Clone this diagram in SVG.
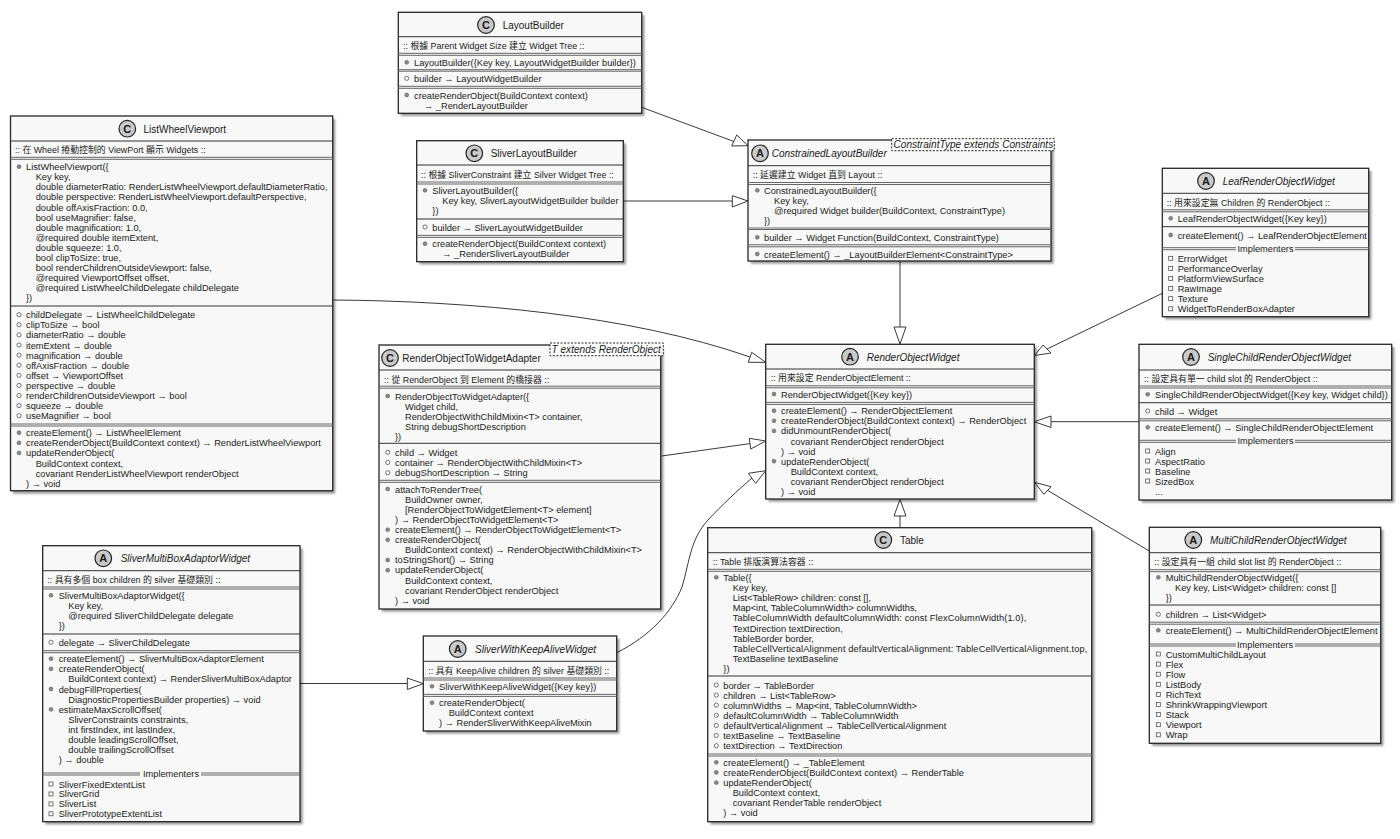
<svg xmlns="http://www.w3.org/2000/svg" width="1400" height="839" viewBox="0 0 1400 839">
<style>
text{font-family:"Liberation Sans","Noto Sans CJK TC",sans-serif;font-size:9.25px;fill:#1a1a1a}
.box{fill:#f8f8f8;stroke:#262626;stroke-width:1.3}
.shadow{fill:#000;opacity:.4;filter:url(#blur)}
.sep{stroke:#333;stroke-width:1;fill:none}
.dbl{stroke:#666;stroke-width:1;fill:none}
text.st{font-size:8.9px}
text.ttl{font-size:10px}
.it{font-style:italic}
.ic{fill:#c9c9c9;stroke:#222;stroke-width:1.2}
text.L{font-size:11px;font-weight:bold;text-anchor:middle}
text.gt{font-size:10.1px;font-style:italic}
.gen{fill:#fff;stroke:#222;stroke-width:1;stroke-dasharray:2 1.5}
.conn path{fill:none;stroke:#3a3a3a;stroke-width:1}
.conn polygon{fill:#fff;stroke:#3a3a3a;stroke-width:1}
.m{fill:#8a8a8a;stroke:#666;stroke-width:.7}
.f{fill:none;stroke:#444;stroke-width:.7}
.s{fill:none;stroke:#444;stroke-width:.7}
</style>
<defs>
<filter id="blur" x="-5%" y="-5%" width="110%" height="110%"><feGaussianBlur stdDeviation="1.2"/></filter>
<circle id="dm" class="m" r="1.9"/>
<circle id="df" class="f" r="2.1"/>
<rect id="ds" class="s" x="-2" y="-2" width="4" height="4"/>
</defs>
<rect width="1400" height="839" fill="#fff"/>

<g id="connectors" class="conn">
<path d="M641.7 107.3L738 143"/><polygon points="748,145.7 736.7,135 731.7,146"/>
<path d="M623.3 201H732.3"/><polygon points="748,201 732.3,195.7 732.3,207"/>
<path d="M900 261V327"/><polygon points="900,344 894,327 906,327"/>
<path d="M900 527.7V516"/><polygon points="900,499.5 894,516 906,516"/>
<path d="M1162.3 293.3L1047 349"/><polygon points="1034.5,355.5 1043,345 1051,353"/>
<path d="M1139 421.7H1051"/><polygon points="1034.3,421.7 1051,416 1051,427.5"/>
<path d="M1149.3 551L1047 490"/><polygon points="1034.5,482.3 1051,486.7 1044,494.3"/>
<path d="M332.7 300C470 301 630 315 750 357"/><polygon points="765.7,362.3 751.7,352.3 748.3,362.3"/>
<path d="M661.7 456L750 443.6"/><polygon points="765.7,441 749.3,438.3 750.7,449"/>
<path d="M616.7 652.7C650 636 672 612 682 587C690 560 690 540 708 520C722 505 738 490 752 478"/><polygon points="765.7,470.7 748.3,473.3 755.7,483.3"/>
<path d="M300 683.5H407.3"/><polygon points="423.3,683.7 407.3,678 407.3,689.5"/>
</g>

<g id="ListWheelViewport">
<rect class="shadow" x="13" y="119" width="322.2" height="374.7"/>
<rect class="box" x="10.5" y="116" width="322.2" height="374.7"/>
<circle class="ic" cx="127.3" cy="128.7" r="8.3"/><text class="L" x="127.3" y="132.6">C</text>
<text class="ttl" x="143.5" y="132.7">ListWheelViewport</text>
<path class="sep" d="M10.5 141H332.7M10.5 306H332.7"/>
<path class="dbl" d="M10.5 157.3H332.7M10.5 159.3H332.7M10.5 424H332.7M10.5 426H332.7"/>
<text class="st" x="15" y="153">:: 在 Wheel 捲動控制的 ViewPort 顯示 Widgets ::</text>
<use href="#dm" x="19" y="166.7"/>
<text y="170.2"><tspan x="26">ListWheelViewport({</tspan><tspan x="35.7" dy="10.08">Key key,</tspan><tspan x="35.7" dy="10.08">double diameterRatio: RenderListWheelViewport.defaultDiameterRatio,</tspan><tspan x="35.7" dy="10.08">double perspective: RenderListWheelViewport.defaultPerspective,</tspan><tspan x="35.7" dy="10.08">double offAxisFraction: 0.0,</tspan><tspan x="35.7" dy="10.08">bool useMagnifier: false,</tspan><tspan x="35.7" dy="10.08">double magnification: 1.0,</tspan><tspan x="35.7" dy="10.08">@required double itemExtent,</tspan><tspan x="35.7" dy="10.08">double squeeze: 1.0,</tspan><tspan x="35.7" dy="10.08">bool clipToSize: true,</tspan><tspan x="35.7" dy="10.08">bool renderChildrenOutsideViewport: false,</tspan><tspan x="35.7" dy="10.08">@required ViewportOffset offset,</tspan><tspan x="35.7" dy="10.08">@required ListWheelChildDelegate childDelegate</tspan><tspan x="26" dy="10.08">})</tspan></text>
<use href="#df" x="19" y="314.7"/><use href="#df" x="19" y="324.8"/><use href="#df" x="19" y="334.9"/><use href="#df" x="19" y="345"/><use href="#df" x="19" y="355.1"/><use href="#df" x="19" y="365.2"/><use href="#df" x="19" y="375.3"/><use href="#df" x="19" y="385.4"/><use href="#df" x="19" y="395.5"/><use href="#df" x="19" y="405.6"/><use href="#df" x="19" y="415.7"/>
<text y="318.2"><tspan x="26">childDelegate → ListWheelChildDelegate</tspan><tspan x="26" dy="10.1">clipToSize → bool</tspan><tspan x="26" dy="10.1">diameterRatio → double</tspan><tspan x="26" dy="10.1">itemExtent → double</tspan><tspan x="26" dy="10.1">magnification → double</tspan><tspan x="26" dy="10.1">offAxisFraction → double</tspan><tspan x="26" dy="10.1">offset → ViewportOffset</tspan><tspan x="26" dy="10.1">perspective → double</tspan><tspan x="26" dy="10.1">renderChildrenOutsideViewport → bool</tspan><tspan x="26" dy="10.1">squeeze → double</tspan><tspan x="26" dy="10.1">useMagnifier → bool</tspan></text>
<use href="#dm" x="19" y="432.7"/><use href="#dm" x="19" y="442.8"/><use href="#dm" x="19" y="452.9"/>
<text y="436.2"><tspan x="26">createElement() → ListWheelElement</tspan><tspan x="26" dy="10.1">createRenderObject(BuildContext context) → RenderListWheelViewport</tspan><tspan x="26" dy="10.1">updateRenderObject(</tspan><tspan x="35.7" dy="10.1">BuildContext context,</tspan><tspan x="35.7" dy="10.1">covariant RenderListWheelViewport renderObject</tspan><tspan x="26" dy="10.1">) → void</tspan></text>
</g>

<g id="LayoutBuilder">
<rect class="shadow" x="401" y="15" width="243.4" height="101"/>
<rect class="box" x="398.3" y="12.3" width="243.4" height="101"/>
<circle class="ic" cx="486" cy="25" r="8.3"/><text class="L" x="486" y="28.9">C</text>
<text class="ttl" x="502.7" y="29">LayoutBuilder</text>
<path class="sep" d="M398.3 36.7H641.7"/>
<path class="dbl" d="M398.3 53.3H641.7M398.3 55.3H641.7M398.3 69.7H641.7M398.3 71.2H641.7M398.3 86.3H641.7M398.3 88.3H641.7"/>
<text class="st" x="403" y="49">:: 根據 Parent Widget Size 建立 Widget Tree ::</text>
<use href="#dm" x="406.7" y="62.3"/><text x="414" y="65.8">LayoutBuilder({Key key, LayoutWidgetBuilder builder})</text>
<use href="#df" x="406.7" y="78.3"/><text x="414" y="81.8">builder → LayoutWidgetBuilder</text>
<use href="#dm" x="406.7" y="95"/><text y="98.5"><tspan x="414">createRenderObject(BuildContext context)</tspan><tspan x="424" dy="10.2">→ _RenderLayoutBuilder</tspan></text>
</g>

<g id="SliverLayoutBuilder">
<rect class="shadow" x="419.4" y="143.4" width="206.6" height="121"/>
<rect class="box" x="416.7" y="140.7" width="206.6" height="121"/>
<circle class="ic" cx="474.3" cy="153.3" r="8.3"/><text class="L" x="474.3" y="157.2">C</text>
<text class="ttl" x="490.7" y="157.3">SliverLayoutBuilder</text>
<path class="sep" d="M416.7 165H623.3M416.7 219H623.3"/>
<path class="dbl" d="M416.7 182H623.3M416.7 184H623.3M416.7 235.4H623.3M416.7 237.4H623.3"/>
<text class="st" x="421" y="177.8">:: 根據 SliverConstraint 建立 Silver Widget Tree ::</text>
<use href="#dm" x="425" y="190.3"/><text y="193.8"><tspan x="432.3">SliverLayoutBuilder({</tspan><tspan x="442.3" dy="10.2">Key key, SliverLayoutWidgetBuilder builder</tspan><tspan x="432.3" dy="10.2">})</tspan></text>
<use href="#df" x="425" y="227"/><text x="432.3" y="230.5">builder → SliverLayoutWidgetBuilder</text>
<use href="#dm" x="425" y="243.7"/><text y="247.2"><tspan x="432.3">createRenderObject(BuildContext context)</tspan><tspan x="442.3" dy="10.2">→ _RenderSliverLayoutBuilder</tspan></text>
</g>

<g id="ConstrainedLayoutBuilder">
<rect class="shadow" x="750.7" y="142.7" width="303" height="121"/>
<rect class="box" x="748" y="140" width="303" height="121"/>
<rect class="gen" x="891.7" y="138.7" width="162.6" height="12"/>
<text class="gt" x="893.5" y="148">ConstraintType extends Constraints</text>
<circle class="ic" cx="760" cy="153.3" r="8.3"/><text class="L" x="760" y="157.2">A</text>
<text class="ttl it" x="771.7" y="157.3">ConstrainedLayoutBuilder</text>
<path class="sep" d="M748 165.7H1051"/>
<path class="dbl" d="M748 182.5H1051M748 184.5H1051M748 228H1051M748 229.5H1051M748 244.8H1051M748 246.8H1051"/>
<text class="st" x="752.7" y="177.8">:: 延遲建立 Widget 直到 Layout ::</text>
<use href="#dm" x="757.3" y="190.3"/><text y="193.8"><tspan x="764">ConstrainedLayoutBuilder({</tspan><tspan x="774" dy="10.2">Key key,</tspan><tspan x="774" dy="10.2">@required Widget builder(BuildContext, ConstraintType)</tspan><tspan x="764" dy="10.2">})</tspan></text>
<use href="#dm" x="757.3" y="237.3"/><text x="764" y="240.8">builder → Widget Function(BuildContext, ConstraintType)</text>
<use href="#dm" x="757.3" y="254"/><text x="764" y="257.5">createElement() → _LayoutBuilderElement&lt;ConstraintType&gt;</text>
</g>

<g id="LeafRenderObjectWidget">
<rect class="shadow" x="1165" y="171" width="206.4" height="148.4"/>
<rect class="box" x="1162.3" y="168.3" width="206.4" height="148.4"/>
<circle class="ic" cx="1206" cy="181" r="8.3"/><text class="L" x="1206" y="184.9">A</text>
<text class="ttl it" x="1222.7" y="185.2">LeafRenderObjectWidget</text>
<path class="sep" d="M1162.3 193.3H1368.7M1162.3 226.7H1368.7"/>
<path class="dbl" d="M1162.3 209.8H1368.7M1162.3 211.8H1368.7M1162.3 247.7H1236M1162.3 249.7H1236M1295 247.7H1368.7M1295 249.7H1368.7"/>
<text class="st" x="1166.7" y="205.8">:: 用來設定無 Children 的 RenderObject ::</text>
<use href="#dm" x="1170.7" y="218.3"/><text x="1177.7" y="221.8">LeafRenderObjectWidget({Key key})</text>
<use href="#dm" x="1170.7" y="235"/><text x="1177.7" y="238.5">createElement() → LeafRenderObjectElement</text>
<text x="1265.5" y="251.5" text-anchor="middle">Implementers</text>
<use href="#ds" x="1170.7" y="258.3"/><use href="#ds" x="1170.7" y="268.4"/><use href="#ds" x="1170.7" y="278.5"/><use href="#ds" x="1170.7" y="288.6"/><use href="#ds" x="1170.7" y="298.7"/><use href="#ds" x="1170.7" y="308.8"/>
<text y="261.8"><tspan x="1177.7">ErrorWidget</tspan><tspan x="1177.7" dy="10.1">PerformanceOverlay</tspan><tspan x="1177.7" dy="10.1">PlatformViewSurface</tspan><tspan x="1177.7" dy="10.1">RawImage</tspan><tspan x="1177.7" dy="10.1">Texture</tspan><tspan x="1177.7" dy="10.1">WidgetToRenderBoxAdapter</tspan></text>
</g>

<g id="SingleChildRenderObjectWidget">
<rect class="shadow" x="1141.7" y="347" width="252.7" height="155.7"/>
<rect class="box" x="1139" y="344.3" width="252.7" height="155.7"/>
<circle class="ic" cx="1191" cy="357" r="8.3"/><text class="L" x="1191" y="360.9">A</text>
<text class="ttl it" x="1207.7" y="361.3">SingleChildRenderObjectWidget</text>
<path class="sep" d="M1139 370H1391.7M1139 402.7H1391.7"/>
<path class="dbl" d="M1139 386H1391.7M1139 388H1391.7M1139 418.8H1391.7M1139 420.8H1391.7M1139 440.3H1236M1139 442.3H1236M1295 440.3H1391.7M1295 442.3H1391.7"/>
<text class="st" x="1144" y="381.8">:: 設定具有單一 child slot 的 RenderObject ::</text>
<use href="#dm" x="1147.7" y="394.3"/><text x="1155" y="397.8">SingleChildRenderObjectWidget({Key key, Widget child})</text>
<use href="#df" x="1147.7" y="411"/><text x="1155" y="414.5">child → Widget</text>
<use href="#dm" x="1147.7" y="427.3"/><text x="1155" y="430.8">createElement() → SingleChildRenderObjectElement</text>
<text x="1265.5" y="444" text-anchor="middle">Implementers</text>
<use href="#ds" x="1147.7" y="451"/><use href="#ds" x="1147.7" y="461"/><use href="#ds" x="1147.7" y="471"/><use href="#ds" x="1147.7" y="481"/>
<text y="454.5"><tspan x="1155">Align</tspan><tspan x="1155" dy="10">AspectRatio</tspan><tspan x="1155" dy="10">Baseline</tspan><tspan x="1155" dy="10">SizedBox</tspan><tspan x="1155" dy="10">...</tspan></text>
</g>

<g id="RenderObjectToWidgetAdapter">
<rect class="shadow" x="381.7" y="347.7" width="281.7" height="264"/>
<rect class="box" x="379" y="345" width="281.7" height="264"/>
<rect class="gen" x="550" y="343" width="113.3" height="12.7"/>
<text class="gt" x="551.5" y="352.5">T extends RenderObject</text>
<circle class="ic" cx="390" cy="358" r="8.3"/><text class="L" x="390" y="361.9">C</text>
<text class="ttl" x="402.3" y="362.2">RenderObjectToWidgetAdapter</text>
<path class="sep" d="M379 370H660.7M379 443.3H660.7"/>
<path class="dbl" d="M379 386.2H660.7M379 388.2H660.7M379 480.3H660.7M379 482.3H660.7"/>
<text class="st" x="384" y="382.8">:: 從 RenderObject 到 Element 的橋接器 ::</text>
<use href="#dm" x="387.7" y="396"/>
<text y="399.5"><tspan x="395">RenderObjectToWidgetAdapter({</tspan><tspan x="405" dy="10.1">Widget child,</tspan><tspan x="405" dy="10.1">RenderObjectWithChildMixin&lt;T&gt; container,</tspan><tspan x="405" dy="10.1">String debugShortDescription</tspan><tspan x="395" dy="10.1">})</tspan></text>
<use href="#df" x="387.7" y="452.3"/><use href="#df" x="387.7" y="462.5"/><use href="#df" x="387.7" y="472.7"/>
<text y="455.8"><tspan x="395">child → Widget</tspan><tspan x="395" dy="10.2">container → RenderObjectWithChildMixin&lt;T&gt;</tspan><tspan x="395" dy="10.2">debugShortDescription → String</tspan></text>
<use href="#dm" x="387.7" y="489"/><use href="#dm" x="387.7" y="529.7"/><use href="#dm" x="387.7" y="539.8"/><use href="#dm" x="387.7" y="560"/><use href="#dm" x="387.7" y="570.2"/>
<text y="492.5"><tspan x="395">attachToRenderTree(</tspan><tspan x="405" dy="10.12">BuildOwner owner,</tspan><tspan x="405" dy="10.12">[RenderObjectToWidgetElement&lt;T&gt; element]</tspan><tspan x="395" dy="10.12">) → RenderObjectToWidgetElement&lt;T&gt;</tspan><tspan x="395" dy="10.12">createElement() → RenderObjectToWidgetElement&lt;T&gt;</tspan><tspan x="395" dy="10.12">createRenderObject(</tspan><tspan x="405" dy="10.12">BuildContext context) → RenderObjectWithChildMixin&lt;T&gt;</tspan><tspan x="395" dy="10.12">toStringShort() → String</tspan><tspan x="395" dy="10.12">updateRenderObject(</tspan><tspan x="405" dy="10.12">BuildContext context,</tspan><tspan x="405" dy="10.12">covariant RenderObject renderObject</tspan><tspan x="395" dy="10.12">) → void</tspan></text>
</g>

<g id="RenderObjectWidget">
<rect class="shadow" x="768.4" y="347" width="268.6" height="154.7"/>
<rect class="box" x="765.7" y="344.3" width="268.6" height="154.7"/>
<circle class="ic" cx="850" cy="356.7" r="8.3"/><text class="L" x="850" y="360.6">A</text>
<text class="ttl it" x="866.7" y="360.5">RenderObjectWidget</text>
<path class="sep" d="M765.7 369H1034.3"/>
<path class="dbl" d="M765.7 385.8H1034.3M765.7 387.8H1034.3M765.7 402.4H1034.3M765.7 404.4H1034.3"/>
<text class="st" x="770.7" y="381.2">:: 用來設定 RenderObjectElement ::</text>
<use href="#dm" x="774" y="394"/><text x="781" y="397.5">RenderObjectWidget({Key key})</text>
<use href="#dm" x="774" y="410.7"/><use href="#dm" x="774" y="420.8"/><use href="#dm" x="774" y="430.9"/><use href="#dm" x="774" y="461.2"/>
<text y="414.2"><tspan x="781">createElement() → RenderObjectElement</tspan><tspan x="781" dy="10.12">createRenderObject(BuildContext context) → RenderObject</tspan><tspan x="781" dy="10.12">didUnmountRenderObject(</tspan><tspan x="790.7" dy="10.12">covariant RenderObject renderObject</tspan><tspan x="781" dy="10.12">) → void</tspan><tspan x="781" dy="10.12">updateRenderObject(</tspan><tspan x="790.7" dy="10.12">BuildContext context,</tspan><tspan x="790.7" dy="10.12">covariant RenderObject renderObject</tspan><tspan x="781" dy="10.12">) → void</tspan></text>
</g>

<g id="Table">
<rect class="shadow" x="710.4" y="530.4" width="384" height="294"/>
<rect class="box" x="707.7" y="527.7" width="384" height="294"/>
<circle class="ic" cx="883.3" cy="540" r="8.3"/><text class="L" x="883.3" y="543.9">C</text>
<text class="ttl" x="900" y="544">Table</text>
<path class="sep" d="M707.7 552.7H1091.7M707.7 676H1091.7"/>
<path class="dbl" d="M707.7 569.3H1091.7M707.7 571.3H1091.7M707.7 754H1091.7M707.7 756H1091.7"/>
<text class="st" x="712.7" y="564.8">:: Table 排版演算法容器 ::</text>
<use href="#dm" x="716.3" y="577.3"/>
<text y="580.8"><tspan x="723.3">Table({</tspan><tspan x="732.7" dy="10.15">Key key,</tspan><tspan x="732.7" dy="10.15">List&lt;TableRow&gt; children: const [],</tspan><tspan x="732.7" dy="10.15">Map&lt;int, TableColumnWidth&gt; columnWidths,</tspan><tspan x="732.7" dy="10.15" style="letter-spacing:.09px">TableColumnWidth defaultColumnWidth: const FlexColumnWidth(1.0),</tspan><tspan x="732.7" dy="10.15">TextDirection textDirection,</tspan><tspan x="732.7" dy="10.15">TableBorder border,</tspan><tspan x="732.7" dy="10.15" style="letter-spacing:.13px">TableCellVerticalAlignment defaultVerticalAlignment: TableCellVerticalAlignment.top,</tspan><tspan x="732.7" dy="10.15">TextBaseline textBaseline</tspan><tspan x="723.3" dy="10.15">})</tspan></text>
<use href="#df" x="716.3" y="685"/><use href="#df" x="716.3" y="695.1"/><use href="#df" x="716.3" y="705.2"/><use href="#df" x="716.3" y="715.3"/><use href="#df" x="716.3" y="725.4"/><use href="#df" x="716.3" y="735.5"/><use href="#df" x="716.3" y="745.7"/>
<text y="688.5"><tspan x="723.3">border → TableBorder</tspan><tspan x="723.3" dy="10.12">children → List&lt;TableRow&gt;</tspan><tspan x="723.3" dy="10.12">columnWidths → Map&lt;int, TableColumnWidth&gt;</tspan><tspan x="723.3" dy="10.12">defaultColumnWidth → TableColumnWidth</tspan><tspan x="723.3" dy="10.12">defaultVerticalAlignment → TableCellVerticalAlignment</tspan><tspan x="723.3" dy="10.12">textBaseline → TextBaseline</tspan><tspan x="723.3" dy="10.12">textDirection → TextDirection</tspan></text>
<use href="#dm" x="716.3" y="762.3"/><use href="#dm" x="716.3" y="772.4"/><use href="#dm" x="716.3" y="782.6"/>
<text y="765.8"><tspan x="723.3">createElement() → _TableElement</tspan><tspan x="723.3" dy="10.12">createRenderObject(BuildContext context) → RenderTable</tspan><tspan x="723.3" dy="10.12">updateRenderObject(</tspan><tspan x="732.7" dy="10.12">BuildContext context,</tspan><tspan x="732.7" dy="10.12">covariant RenderTable renderObject</tspan><tspan x="723.3" dy="10.12">) → void</tspan></text>
</g>

<g id="MultiChildRenderObjectWidget">
<rect class="shadow" x="1152" y="530" width="231.4" height="216"/>
<rect class="box" x="1149.3" y="527.3" width="231.4" height="216"/>
<circle class="ic" cx="1193.3" cy="540" r="8.3"/><text class="L" x="1193.3" y="543.9">A</text>
<text class="ttl it" x="1210" y="544">MultiChildRenderObjectWidget</text>
<path class="sep" d="M1149.3 552.7H1380.7M1149.3 605H1380.7"/>
<path class="dbl" d="M1149.3 569.7H1380.7M1149.3 571.7H1380.7M1149.3 622.2H1380.7M1149.3 624.2H1380.7M1149.3 644H1236M1149.3 646H1236M1295 644H1380.7M1295 646H1380.7"/>
<text class="st" x="1154.3" y="564.5">:: 設定具有一組 child slot list 的 RenderObject ::</text>
<use href="#dm" x="1158.3" y="577.3"/><text y="580.8"><tspan x="1165.7">MultiChildRenderObjectWidget({</tspan><tspan x="1175" dy="10.2">Key key, List&lt;Widget&gt; children: const []</tspan><tspan x="1165.7" dy="10.2">})</tspan></text>
<use href="#df" x="1158.3" y="614.3"/><text x="1165.7" y="617.8">children → List&lt;Widget&gt;</text>
<use href="#dm" x="1158.3" y="630.3"/><text x="1165.7" y="633.8">createElement() → MultiChildRenderObjectElement</text>
<text x="1265" y="648" text-anchor="middle">Implementers</text>
<use href="#ds" x="1158.3" y="654"/><use href="#ds" x="1158.3" y="664.1"/><use href="#ds" x="1158.3" y="674.2"/><use href="#ds" x="1158.3" y="684.3"/><use href="#ds" x="1158.3" y="694.4"/><use href="#ds" x="1158.3" y="704.5"/><use href="#ds" x="1158.3" y="714.6"/><use href="#ds" x="1158.3" y="724.7"/><use href="#ds" x="1158.3" y="734.8"/>
<text y="657.5"><tspan x="1165.7">CustomMultiChildLayout</tspan><tspan x="1165.7" dy="10.12">Flex</tspan><tspan x="1165.7" dy="10.12">Flow</tspan><tspan x="1165.7" dy="10.12">ListBody</tspan><tspan x="1165.7" dy="10.12">RichText</tspan><tspan x="1165.7" dy="10.12">ShrinkWrappingViewport</tspan><tspan x="1165.7" dy="10.12">Stack</tspan><tspan x="1165.7" dy="10.12">Viewport</tspan><tspan x="1165.7" dy="10.12">Wrap</tspan></text>
</g>

<g id="SliverMultiBoxAdaptorWidget">
<rect class="shadow" x="45.4" y="548.4" width="257.3" height="276"/>
<rect class="box" x="42.7" y="545.7" width="257.3" height="276"/>
<circle class="ic" cx="103.3" cy="558.3" r="8.3"/><text class="L" x="103.3" y="562.2">A</text>
<text class="ttl it" x="120.7" y="562.3">SliverMultiBoxAdaptorWidget</text>
<path class="sep" d="M42.7 570.7H300M42.7 634H300"/>
<path class="dbl" d="M42.7 587H300M42.7 589H300M42.7 650.7H300M42.7 652.7H300M42.7 773H140M42.7 775H140M201 773H300M201 775H300"/>
<text class="st" x="47.3" y="582.8">:: 具有多個 box children 的 silver 基礎類別 ::</text>
<use href="#dm" x="51" y="595.3"/><text y="598.8"><tspan x="58.7">SliverMultiBoxAdaptorWidget({</tspan><tspan x="68.3" dy="10.12">Key key,</tspan><tspan x="68.3" dy="10.12">@required SliverChildDelegate delegate</tspan><tspan x="58.7" dy="10.12">})</tspan></text>
<use href="#df" x="51" y="642.3"/><text x="58.7" y="645.8">delegate → SliverChildDelegate</text>
<use href="#dm" x="51" y="658.7"/><use href="#dm" x="51" y="668.8"/><use href="#dm" x="51" y="689"/><use href="#dm" x="51" y="709.3"/>
<text y="662.2"><tspan x="58.7">createElement() → SliverMultiBoxAdaptorElement</tspan><tspan x="58.7" dy="10.12">createRenderObject(</tspan><tspan x="68.3" dy="10.12">BuildContext context) → RenderSliverMultiBoxAdaptor</tspan><tspan x="58.7" dy="10.12">debugFillProperties(</tspan><tspan x="68.3" dy="10.12">DiagnosticPropertiesBuilder properties) → void</tspan><tspan x="58.7" dy="10.12">estimateMaxScrollOffset(</tspan><tspan x="68.3" dy="10.12">SliverConstraints constraints,</tspan><tspan x="68.3" dy="10.12">int firstIndex, int lastIndex,</tspan><tspan x="68.3" dy="10.12">double leadingScrollOffset,</tspan><tspan x="68.3" dy="10.12">double trailingScrollOffset</tspan><tspan x="58.7" dy="10.12">) → double</tspan></text>
<text x="171" y="777.2" text-anchor="middle">Implementers</text>
<use href="#ds" x="51" y="784"/><use href="#ds" x="51" y="794"/><use href="#ds" x="51" y="803.9"/><use href="#ds" x="51" y="813.8"/>
<text y="787.5"><tspan x="58.7">SliverFixedExtentList</tspan><tspan x="58.7" dy="9.95">SliverGrid</tspan><tspan x="58.7" dy="9.95">SliverList</tspan><tspan x="58.7" dy="9.95">SliverPrototypeExtentList</tspan></text>
</g>

<g id="SliverWithKeepAliveWidget">
<rect class="shadow" x="426" y="638.7" width="193.4" height="95"/>
<rect class="box" x="423.3" y="636" width="193.4" height="95"/>
<circle class="ic" cx="457.7" cy="649" r="8.3"/><text class="L" x="457.7" y="652.9">A</text>
<text class="ttl it" x="475" y="653.2">SliverWithKeepAliveWidget</text>
<path class="sep" d="M423.3 661.3H616.7"/>
<path class="dbl" d="M423.3 678H616.7M423.3 680H616.7M423.3 694.4H616.7M423.3 696.4H616.7"/>
<text class="st" x="428.3" y="673.5">:: 具有 KeepAlive children 的 silver 基礎類別 ::</text>
<use href="#dm" x="432" y="686.3"/><text x="439" y="689.8">SliverWithKeepAliveWidget({Key key})</text>
<use href="#dm" x="432" y="702.7"/>
<text y="706.2"><tspan x="439">createRenderObject(</tspan><tspan x="448.7" dy="10">BuildContext context</tspan><tspan x="439" dy="10">) → RenderSliverWithKeepAliveMixin</tspan></text>
</g>
</svg>
